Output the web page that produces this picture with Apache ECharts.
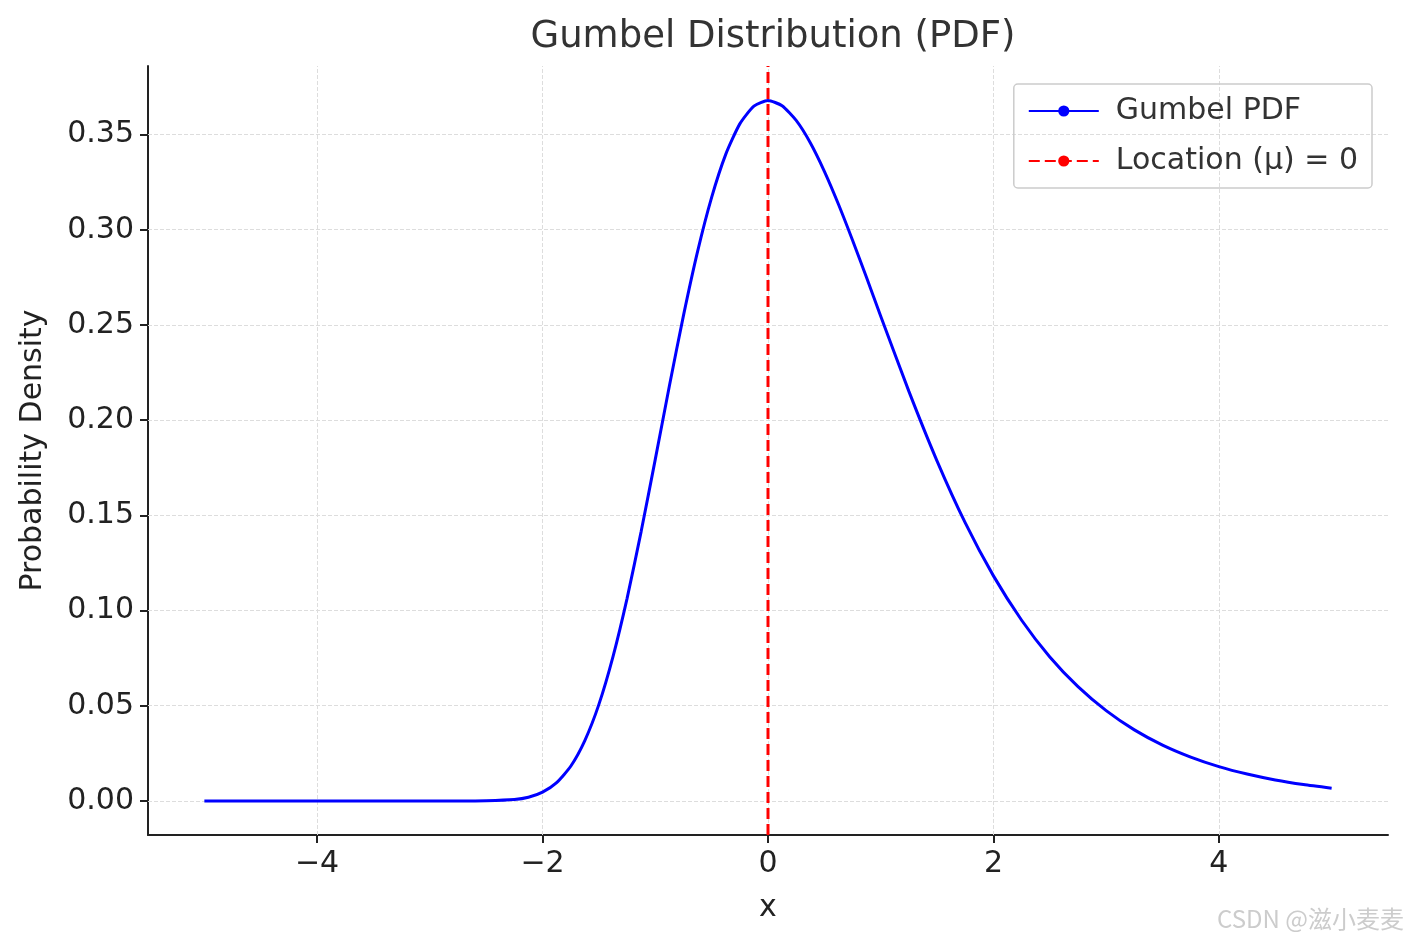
<!DOCTYPE html>
<html><head><meta charset="utf-8">
<script src="https://cdn.jsdelivr.net/npm/echarts@6/dist/echarts.min.js"></script>
<style>html,body{margin:0;background:#fff}#c{width:1408px;height:943px}</style>
</head><body><div id="c"></div>
<script>
// 读图估计的曲线点
const xs = [-5, -4, -3, -2.75, -2.5, -2.25, -2.125, -2, -1.875, -1.75, -1.625, -1.5, -1.375, -1.25, -1.125, -1,
  -0.875, -0.75, -0.625, -0.5, -0.375, -0.25, -0.125, 0, 0.125, 0.25, 0.375, 0.5, 0.625, 0.75, 0.875, 1,
  1.25, 1.5, 1.75, 2, 2.25, 2.5, 2.75, 3, 3.25, 3.5, 3.75, 4, 4.25, 4.5, 4.75, 5];
const pdf = [0, 0, 0, 0, 0.0001, 0.0007, 0.0019, 0.0046, 0.0096, 0.0182, 0.0317, 0.0507, 0.0758, 0.1064, 0.1416, 0.1794,
  0.2179, 0.2549, 0.2885, 0.317, 0.3396, 0.3556, 0.3649, 0.3679, 0.3651, 0.3574, 0.3457, 0.3307, 0.3134, 0.2945, 0.2748, 0.2546,
  0.2151, 0.1785, 0.146, 0.1182, 0.0949, 0.0756, 0.06, 0.0474, 0.0373, 0.0293, 0.023, 0.018, 0.0141, 0.011, 0.0086, 0.0067];
const xTicks = [-4, -2, 0, 2, 4];
const yTicks = [0, 0.05, 0.1, 0.15, 0.2, 0.25, 0.3, 0.35];
const yMin = -0.0179, yMax = 0.386;
const mu = 0;

const font = 'DejaVu Sans';
const grid = {type: 'dashed', color: '#dddddd', width: 1};
const chart = echarts.init(document.getElementById('c'));
chart.setOption({
  animation: false,
  textStyle: {fontFamily: font},
  title: {text: 'Gumbel Distribution (PDF)', left: 768, top: 14, textAlign: 'center',
    textStyle: {fontSize: 37, fontWeight: 'normal', color: '#333', fontFamily: font}},
  graphic: [{type: 'text', right: 4, bottom: 12, style: {text: 'CSDN @滋小麦麦', fontSize: 24, fill: '#cccccc', fontFamily: 'Noto Sans CJK SC'}}],
  legend: {right: 36, top: 84, orient: 'vertical', itemWidth: 70, itemHeight: 14, itemGap: 20,
    padding: [12, 14], borderColor: '#cccccc', borderWidth: 1.5, borderRadius: 4,
    textStyle: {fontSize: 30, color: '#333', fontFamily: font, padding: [0, 0, 0, 12]},
    data: ['Gumbel PDF', 'Location (μ) = 0']},
  grid: {left: 148, right: 20, top: 66, bottom: 108},
  xAxis: {type: 'value', min: -5.5, max: 5.5, name: 'x', nameLocation: 'middle', nameGap: 58,
    nameTextStyle: {fontSize: 30, color: '#222'},
    axisLine: {onZero: false, lineStyle: {color: '#222', width: 2}},
    axisTick: {customValues: xTicks, length: 8, lineStyle: {color: '#222', width: 2}},
    axisLabel: {customValues: xTicks, fontSize: 30, color: '#222', margin: 14,
      formatter: v => (v < 0 ? '\u2212' + (-v) : '' + v)},
    splitLine: {show: false}},
  yAxis: {type: 'value', min: yMin, max: yMax, name: 'Probability Density', nameLocation: 'middle', nameGap: 100,
    nameTextStyle: {fontSize: 30, color: '#222'},
    axisLine: {show: true, onZero: false, lineStyle: {color: '#222', width: 2}},
    axisTick: {show: true, customValues: yTicks, length: 8, lineStyle: {color: '#222', width: 2}},
    axisLabel: {customValues: yTicks, fontSize: 30, color: '#222', margin: 14, formatter: v => v.toFixed(2)},
    splitLine: {show: false}},
  series: [
    {name: 'Gumbel PDF', type: 'line', smooth: 0.2, showSymbol: false, symbol: 'none', z: 3,
      color: '#0000ff', lineStyle: {color: '#0000ff', width: 3},
      data: xs.map((x, i) => [x, pdf[i]]),
      markLine: {silent: true, symbol: 'none', label: {show: false}, lineStyle: grid, z: 1,
        data: xTicks.map(v => ({xAxis: v})).concat(yTicks.map(v => ({yAxis: v})))}},
    {name: 'Location (μ) = 0', type: 'line', showSymbol: false, symbol: 'none', z: 4,
      color: '#ff0000', lineStyle: {color: '#ff0000', width: 3, type: [11, 5]},
      data: [[mu, yMin], [mu, yMax]]}
  ]
});
</script></body></html>
